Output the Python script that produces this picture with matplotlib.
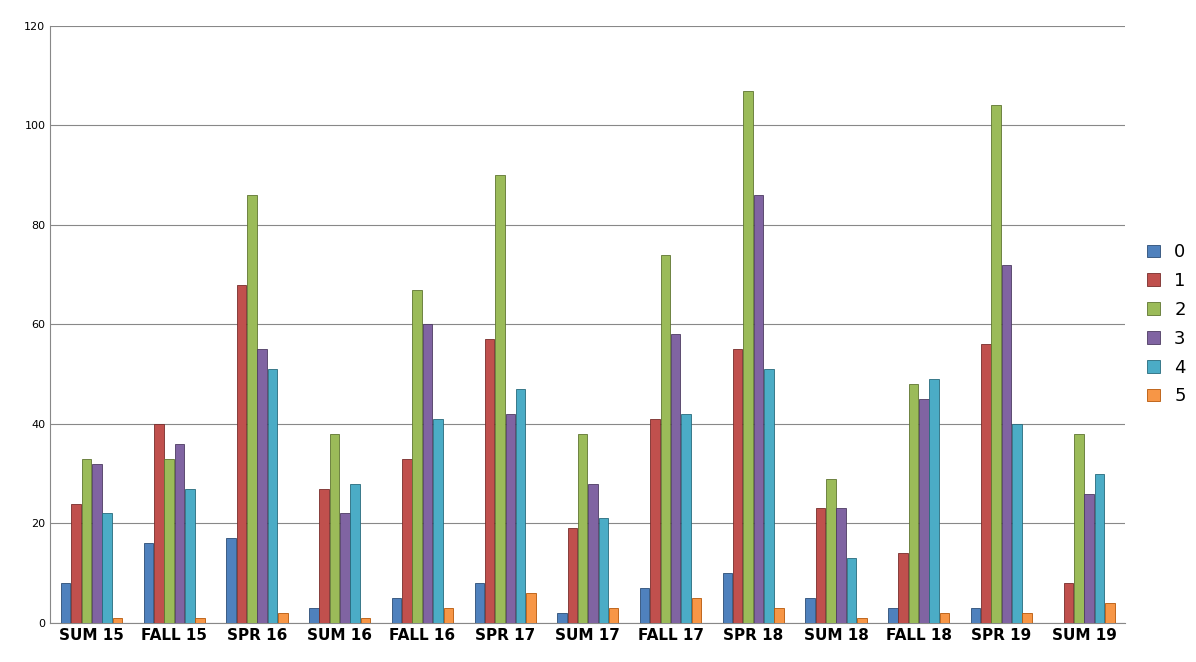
import matplotlib
matplotlib.use("Agg")
import matplotlib.pyplot as plt
import numpy as np

categories = ["SUM 15","FALL 15","SPR 16","SUM 16","FALL 16","SPR 17","SUM 17","FALL 17","SPR 18","SUM 18","FALL 18","SPR 19","SUM 19"]
series_names = ["0","1","2","3","4","5"]
s0 = [8,16,17,3,5,8,2,7,10,5,3,3,0]
s1 = [24,40,68,27,33,57,19,41,55,23,14,56,8]
s2 = [33,33,86,38,67,90,38,74,107,29,48,104,38]
s3 = [32,36,55,22,60,42,28,58,86,23,45,72,26]
s4 = [22,27,51,28,41,47,21,42,51,13,49,40,30]
s5 = [1,1,2,1,3,6,3,5,3,1,2,2,4]
series = [s0,s1,s2,s3,s4,s5]
colors = ["#4F81BD","#C0504D","#9BBB59","#8064A2","#4BACC6","#F79646"]
edges = ["#2C4D75","#772C2A","#5F7530","#4D3B62","#276A7C","#B65708"]

fig = plt.figure(figsize=(11.96,6.62), dpi=100)
ax = fig.add_axes([0.042,0.059,0.899,0.902])
x = np.arange(len(categories))
w = 0.125
for i,(vals,c,e) in enumerate(zip(series,colors,edges)):
    ax.bar(x+(i-2.5)*w, vals, width=w*0.92, color=c, edgecolor=e, linewidth=0.6, label=series_names[i], zorder=3)
ax.set_xlim(-0.5, len(categories)-0.5)
ax.set_ylim(0,120)
ax.set_yticks(range(0,121,20))
ax.yaxis.grid(True, color="#888888", linewidth=0.8, zorder=0)
ax.set_xticks(x)
ax.set_xticklabels(categories, fontsize=11, fontweight="bold")
ax.tick_params(axis="y", labelsize=8, length=0)
ax.tick_params(axis="x", length=0)
for sp in ["top","right"]:
    ax.spines[sp].set_visible(False)
ax.spines["left"].set_color("#888888")
ax.spines["bottom"].set_color("#888888")
ax.legend(loc="center left", bbox_to_anchor=(1.005,0.5), frameon=False, fontsize=13, handlelength=0.7, handleheight=0.7, labelspacing=0.6)
fig.savefig("out.png", dpi=100)
